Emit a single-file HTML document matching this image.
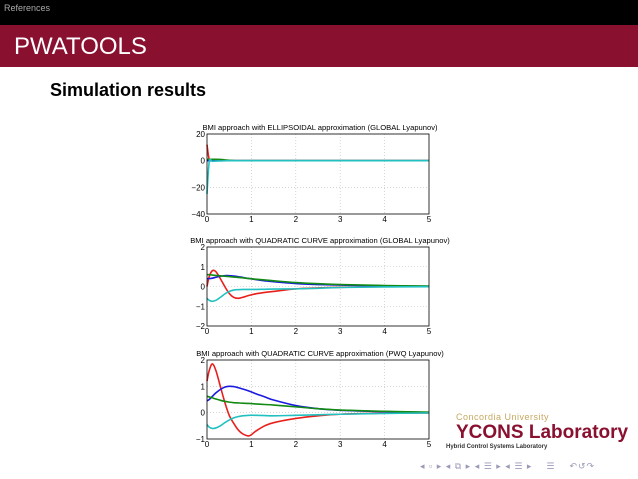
<!DOCTYPE html>
<html><head><meta charset="utf-8"><style>
html,body{margin:0;padding:0;background:#fff;}
body{width:638px;height:479px;overflow:hidden;position:relative;font-family:"Liberation Sans","DejaVu Sans",sans-serif;}
#topbar{position:absolute;left:0;top:0;width:638px;height:25px;background:#000;}
#topbar span{position:absolute;left:4px;top:3px;font-size:9px;color:#aaa;}
#titlebar{position:absolute;left:0;top:25px;width:638px;height:42px;background:#8a1030;}
#titlebar span{position:absolute;left:14px;top:8px;font-size:24px;color:#fff;}
#sub{position:absolute;left:50px;top:80px;font-size:18px;font-weight:bold;color:#000;}
svg{position:absolute;left:0;top:0;}
</style></head><body>
<div id="topbar"><span>References</span></div>
<div id="titlebar"><span>PWATOOLS</span></div>
<div id="sub">Simulation results</div>
<svg id="chart" width="638" height="479"></svg>
<div style="position:absolute;left:456px;top:412px;">
<div style="font-size:9px;color:#c8a860;letter-spacing:0.5px;">Concordia University</div>
<div style="font-size:19px;font-weight:bold;color:#8a1030;margin-top:0px;white-space:nowrap;">YCONS Laboratory</div>
<div style="font-size:6px;font-weight:bold;color:#333;margin-left:-10px;white-space:nowrap;">Hybrid Control Systems Laboratory</div>
</div>
<div style="position:absolute;left:420px;top:461px;font-size:9px;color:#9a9ab8;letter-spacing:1px;">◂ ▫ ▸ ◂ ⧉ ▸ ◂ ☰ ▸ ◂ ☰ ▸ &nbsp;&nbsp; ☰ &nbsp;&nbsp; ↶↺↷</div>
<script>
const T = [0,0.05,0.12,0.2,0.3,0.4,0.5,0.6,0.7,0.8,0.95,1.1,1.3,1.5,2,2.5,3,4,5];
const xTicks = [0,1,2,3,4,5];
// plot 1
const p1Red = [12,1,0.5,0.3,0.2,0.1,0,0,0,0,0,0,0,0,0,0,0,0,0];
const p1Blue = [0,0,0,0,0,0,0,0,0,0,0,0,0,0,0,0,0,0,0];
const p1Green = [1,1,1,1,0.9,0.6,0.3,0.1,0,0,0,0,0,0,0,0,0,0,0];
const p1Cyan = [-25,-1,-0.5,-0.3,-0.2,-0.1,0,0,0,0,0,0,0,0,0,0,0,0,0];
const p1Ticks = [20,0,-20,-40];
// plot 2
const p2Red = [0,0.5,0.8,0.75,0.4,0,-0.35,-0.55,-0.6,-0.55,-0.45,-0.37,-0.3,-0.25,-0.12,-0.07,-0.04,-0.01,0];
const p2Blue = [0.4,0.4,0.42,0.47,0.52,0.55,0.55,0.53,0.5,0.46,0.4,0.35,0.29,0.24,0.15,0.1,0.07,0.03,0.01];
const p2Green = [0.6,0.6,0.58,0.56,0.54,0.52,0.5,0.48,0.46,0.44,0.4,0.37,0.33,0.29,0.2,0.14,0.1,0.05,0.02];
const p2Cyan = [-0.6,-0.7,-0.75,-0.7,-0.55,-0.38,-0.25,-0.18,-0.16,-0.15,-0.15,-0.15,-0.14,-0.13,-0.12,-0.09,-0.05,-0.02,-0.01];
const p2Ticks = [2,1,0,-1,-2];
// plot 3
const p3Red = [1.2,1.6,1.85,1.6,1.0,0.4,-0.1,-0.4,-0.65,-0.8,-0.88,-0.7,-0.5,-0.38,-0.22,-0.12,-0.06,-0.02,-0.01];
const p3Blue = [0.45,0.5,0.62,0.75,0.88,0.97,1.0,0.99,0.95,0.9,0.82,0.72,0.6,0.48,0.27,0.15,0.09,0.04,0.01];
const p3Green = [0.62,0.6,0.56,0.52,0.47,0.43,0.4,0.38,0.37,0.36,0.35,0.33,0.31,0.29,0.22,0.15,0.1,0.05,0.02];
const p3Cyan = [-0.45,-0.55,-0.6,-0.58,-0.5,-0.38,-0.28,-0.2,-0.15,-0.12,-0.1,-0.1,-0.11,-0.12,-0.1,-0.08,-0.06,-0.03,-0.01];
const p3Ticks = [2,1,0,-1];

const NS='http://www.w3.org/2000/svg';
const svg=document.getElementById('chart');
function mk(tag,attrs,parent){const e=document.createElementNS(NS,tag);for(const k in attrs)e.setAttribute(k,attrs[k]);(parent||svg).appendChild(e);return e;}

function drawPlot(cfg){
  const g=mk('g',{});
  
  
  const x0=207,x1=429;
  const xs=v=>x0+(v-0)/(5-0)*(x1-x0);
  const ys=v=>cfg.top+(cfg.ymax-v)/(cfg.ymax-cfg.ymin)*(cfg.bot-cfg.top);
  mk('rect',{x:x0,y:cfg.top,width:x1-x0,height:cfg.bot-cfg.top,fill:'#fff',stroke:'none'},g);
  xTicks.forEach(v=>{ if(v>0&&v<5){const l=mk('line',{x1:xs(v),x2:xs(v),y1:cfg.top,y2:cfg.bot,stroke:'#bbb','stroke-width':0.6,'stroke-dasharray':'1,2'},g);
    }});
  cfg.ticks.forEach(v=>{ if(v<cfg.ymax&&v>cfg.ymin){const l=mk('line',{x1:x0,x2:x1,y1:ys(v),y2:ys(v),stroke:'#bbb','stroke-width':0.6,'stroke-dasharray':'1,2'},g);
    }});
  cfg.series.forEach(s=>{
    const pts=T.map((t,i)=>[xs(t),ys(s.data[i])]);
    let d='M'+pts[0][0]+','+pts[0][1];
    for(let i=0;i<pts.length-1;i++){
      const p0=pts[Math.max(0,i-1)],p1=pts[i],p2=pts[i+1],p3=pts[Math.min(pts.length-1,i+2)];
      const c1=[p1[0]+(p2[0]-p0[0])/6,p1[1]+(p2[1]-p0[1])/6];
      const c2=[p2[0]-(p3[0]-p1[0])/6,p2[1]-(p3[1]-p1[1])/6];
      d+=' C'+c1[0]+','+c1[1]+' '+c2[0]+','+c2[1]+' '+p2[0]+','+p2[1];
    }
    const p=mk('path',{d:d,fill:'none',stroke:s.color,'stroke-width':1.6},g);
    
    
  });
  mk('rect',{x:x0,y:cfg.top,width:x1-x0,height:cfg.bot-cfg.top,fill:'none',stroke:'#000','stroke-width':0.8},g);
  xTicks.forEach(v=>{
    const t=mk('text',{x:xs(v),y:cfg.bot+8,'font-size':8,'text-anchor':'middle',fill:'#000'},g);t.textContent=v;
    
  });
  cfg.ticks.forEach(v=>{
    const t=mk('text',{x:x0-2,y:ys(v)+3,'font-size':8,'text-anchor':'end',fill:'#000'},g);t.textContent=(v<0?'\u2212'+(-v):v);
    
  });
  const tt=mk('text',{x:(x0+x1)/2+2,y:cfg.top-4,'font-size':7.6,'text-anchor':'middle',fill:'#000'},g);
  tt.textContent=cfg.title;
  
}
const C={r:'#e8201c',b:'#1a1ae0',g:'#138a13',c:'#22c0c0'};
drawPlot({name:'plot-ellipsoidal-global',top:134,bot:214,ymin:-40,ymax:20,ticks:p1Ticks,
  title:'BMI approach with ELLIPSOIDAL approximation (GLOBAL Lyapunov)',
  series:[{name:'red-series',data:p1Red,color:C.r},{name:'blue-series',data:p1Blue,color:C.b},{name:'green-series',data:p1Green,color:C.g},{name:'cyan-series',data:p1Cyan,color:C.c}]});
drawPlot({name:'plot-quadratic-global',top:247,bot:326,ymin:-2,ymax:2,ticks:p2Ticks,
  title:'BMI approach with QUADRATIC CURVE approximation (GLOBAL Lyapunov)',
  series:[{name:'red-series',data:p2Red,color:C.r},{name:'blue-series',data:p2Blue,color:C.b},{name:'green-series',data:p2Green,color:C.g},{name:'cyan-series',data:p2Cyan,color:C.c}]});
drawPlot({name:'plot-quadratic-pwq',top:360,bot:439,ymin:-1,ymax:2,ticks:p3Ticks,
  title:'BMI approach with QUADRATIC CURVE approximation (PWQ Lyapunov)',
  series:[{name:'red-series',data:p3Red,color:C.r},{name:'blue-series',data:p3Blue,color:C.b},{name:'green-series',data:p3Green,color:C.g},{name:'cyan-series',data:p3Cyan,color:C.c}]});
</script>
</body></html>
